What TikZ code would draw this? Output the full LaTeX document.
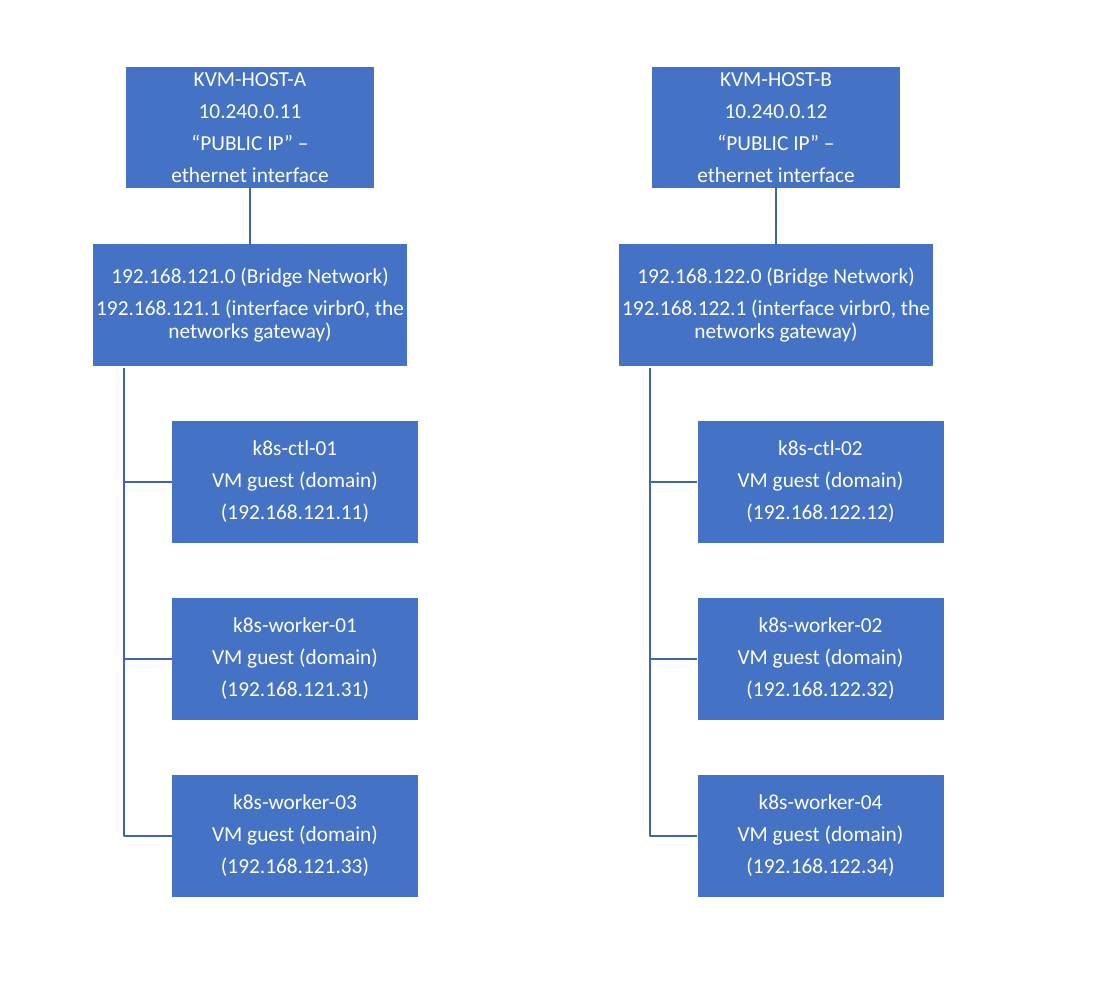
\documentclass[tikz,border=0pt]{standalone}
\usepackage{fontspec}
\setmainfont{Carlito}
\definecolor{kvmblue}{HTML}{4472C4}
\definecolor{wireblue}{HTML}{3E64AC}
\begin{document}
\begin{tikzpicture}[x=0.75pt, y=-0.75pt, line join=round, line cap=butt]
			\tikzset{box/.style={fill=kvmblue, text=white, align=center, inner sep=0pt, font=\fontsize{16}{24}\selectfont},
				hostbox/.style={box, minimum width=186pt, minimum height=90.75pt},
				netbox/.style={box, minimum width=235.5pt, minimum height=91.5pt},
				vmbox/.style={box, minimum width=184.5pt, minimum height=91.5pt},
				wire/.style={draw=wireblue, line width=1.5pt}}
			\useasboundingbox (0,0) rectangle (1104,988);
			% host A
			\node[hostbox] (hostA) at (250,127.5) {KVM-HOST-A\\10.240.0.11\\``PUBLIC IP'' --\\ethernet interface};
			\node[netbox] (bridgeA) at (250,305) {192.168.121.0 (Bridge Network)\\192.168.121.1 (interface virbr0, the\\[-6.75pt]networks gateway)};
			\node[vmbox] (ctlA) at (295,482) {k8s-ctl-01\\VM guest (domain)\\(192.168.121.11)};
			\node[vmbox] (wrkA) at (295,659) {k8s-worker-01\\VM guest (domain)\\(192.168.121.31)};
			\node[vmbox] (wrkC) at (295,836) {k8s-worker-03\\VM guest (domain)\\(192.168.121.33)};
			% host B
			\node[hostbox] (hostB) at (776,127.5) {KVM-HOST-B\\10.240.0.12\\``PUBLIC IP'' --\\ethernet interface};
			\node[netbox] (bridgeB) at (776,305) {192.168.122.0 (Bridge Network)\\192.168.122.1 (interface virbr0, the\\[-6.75pt]networks gateway)};
			\node[vmbox] (ctlB) at (820.5,482) {k8s-ctl-02\\VM guest (domain)\\(192.168.122.12)};
			\node[vmbox] (wrkB) at (820.5,659) {k8s-worker-02\\VM guest (domain)\\(192.168.122.32)};
			\node[vmbox] (wrkD) at (820.5,836) {k8s-worker-04\\VM guest (domain)\\(192.168.122.34)};
			% links
			\draw[wire] (hostA) -- (bridgeA);
			\draw[wire] (hostB) -- (bridgeB);
			\coordinate (busA) at (124,368);
			\coordinate (busB) at (650,368);
			\draw[wire] (busA) -- (busA |- wrkC.west) -- (wrkC.west);
			\draw[wire] (busA |- ctlA.west) -- (ctlA.west);
			\draw[wire] (busA |- wrkA.west) -- (wrkA.west);
			\draw[wire] (busB) -- (busB |- wrkD.west) -- (wrkD.west);
			\draw[wire] (busB |- ctlB.west) -- (ctlB.west);
			\draw[wire] (busB |- wrkB.west) -- (wrkB.west);
\end{tikzpicture}
\end{document}
